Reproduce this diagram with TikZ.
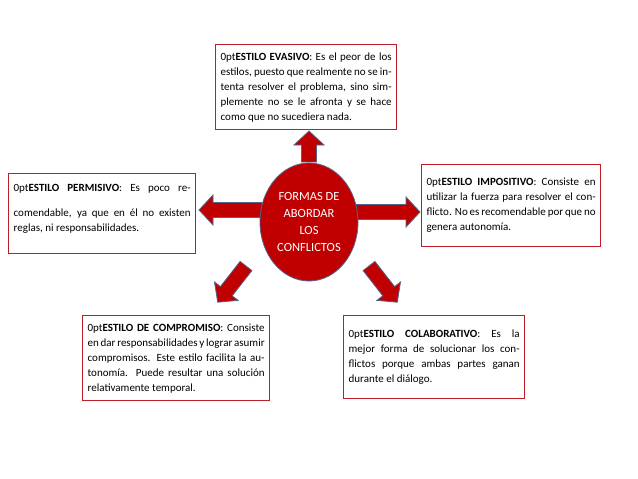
\documentclass[tikz,border=0pt]{standalone}
\usepackage{fontspec}
\setmainfont{Carlito}
\usetikzlibrary{shapes.geometric}
\definecolor{dred}{RGB}{192,0,0}
\definecolor{boxred}{RGB}{190,30,40}
\definecolor{edge}{RGB}{80,100,140}
\tikzset{
 box/.style={draw=boxred,line width=1.3pt,fill=white,inner sep=5pt,align=justify,font=\fontsize{11}{15}\selectfont\hyphenpenalty=10000\sloppy,anchor=north west},
 blk/.style={fill=dred,draw=edge,line width=0.8pt,line join=miter}
}
\begin{document}
\begin{tikzpicture}[x=1pt,y=-1pt]
\useasboundingbox (0,0) rectangle (638,479);
\node[box,text width=171pt,minimum height=85pt] (ev) at (215,44) {\textbf{ESTILO EVASIVO}: Es el peor de los estilos, puesto que realmente no se intenta resolver el problema, sino simplemente no se le afronta y se hace como que no sucediera nada.};
\node[box,text width=177pt,minimum height=80pt] (pe) at (8,173) {\vspace{10pt}\textbf{ESTILO PERMISIVO}: Es poco recomendable, ya que en él no existen reglas, ni responsabilidades.\vspace{10pt}};
\node[box,text width=169pt,minimum height=82pt] (im) at (421,164) {\textbf{ESTILO IMPOSITIVO}: Consiste en utilizar la fuerza para resolver el conflicto. No es recomendable por que no genera autonomía.};
\node[box,text width=177pt,minimum height=85pt] (co) at (82,315) {\textbf{ESTILO DE COMPROMISO}: Consiste en dar responsabilidades y lograr asumir compromisos. Este estilo facilita la autonomía. Puede resultar una solución relativamente temporal.};
\node[box,text width=171pt,minimum height=83pt] (cl) at (343,315) {\textbf{ESTILO COLABORATIVO}: Es la mejor forma de solucionar los conflictos porque ambas partes ganan durante el diálogo.};
\draw[blk] (301.5,162)--(301.5,145)--(294,145)--(309,131)--(324,145)--(316.5,145)--(316.5,162)--cycle;
\draw[blk] (262,202.5)--(213,202.5)--(213,195)--(199,210)--(213,225)--(213,217.5)--(262,217.5)--cycle;
\draw[blk] (356,204.5)--(406,204.5)--(406,197)--(420,212)--(406,227)--(406,219.5)--(356,219.5)--cycle;
\draw[blk] (251.9,270.6)--(232.2,295.8)--(238.1,300.4)--(217.7,302.2)--(214.5,282.0)--(220.4,286.6)--(240.1,261.4)--cycle;
\draw[blk] (374.9,261.4)--(394.6,286.6)--(400.5,282.0)--(397.3,302.2)--(376.9,300.4)--(382.8,295.8)--(363.1,270.6)--cycle;
\node[ellipse,fill=dred,draw=edge,line width=0.8pt,minimum width=98pt,minimum height=118pt,inner sep=0pt,text=white,align=center,font=\fontsize{12.5}{17}\selectfont] (c) at (309,222) {FORMAS DE\\ABORDAR\\LOS\\CONFLICTOS};
\end{tikzpicture}
\end{document}
